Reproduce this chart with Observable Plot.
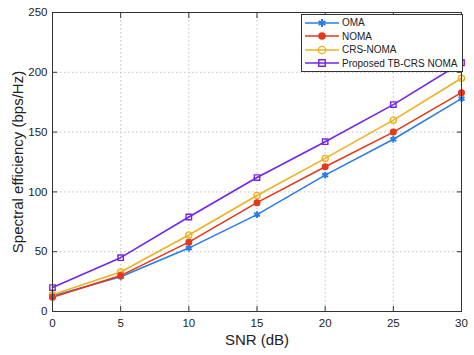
<!DOCTYPE html>
<html>
<head>
<meta charset="utf-8">
<script src="https://cdn.jsdelivr.net/npm/d3@7"></script>
<script src="https://cdn.jsdelivr.net/npm/@observablehq/plot@0.6"></script>
<style>
  html, body { margin: 0; padding: 0; background: #fff; }
  #wrap { position: relative; width: 474px; height: 355px; font-family: "Liberation Sans", Arial, sans-serif; }
  #legend { position: absolute; left: 301px; top: 14px; width: 162px; height: 58px; background: #fff; border: 1px solid #333; box-sizing: border-box; font-size: 10px; color: #222; padding-top: 1px; }
  .item { display: flex; align-items: center; height: 13.5px; margin-left: 2px; white-space: nowrap; }
  .item svg { margin-right: 2px; flex: none; }
</style>
</head>
<body>
<div id="wrap"><div id="chart"></div><div id="legend"></div></div>
<script>
const snr = [0, 5, 10, 15, 20, 25, 30];
const seriesNames = ["OMA", "NOMA", "CRS-NOMA", "Proposed TB-CRS NOMA"];
const oma = [13, 29, 53, 81, 114, 144, 178];
const noma = [12, 30, 58, 91, 121, 150, 183];
const crsNoma = [14, 33, 64, 97, 128, 160, 195];
const proposed = [20, 45, 79, 112, 142, 173, 208];
const xTicks = [0, 5, 10, 15, 20, 25, 30];
const yTicks = [0, 50, 100, 150, 200, 250];
const colors = ["#2a7de8", "#e5381c", "#edb120", "#7326e6"];
const symbols = ["asterisk", "circle", "circle", "square"];
const fills = ["#2a7de8", "#e5381c", "none", "none"];

const values = [oma, noma, crsNoma, proposed];
const data = [];
values.forEach((arr, i) => arr.forEach((v, j) => data.push({series: seriesNames[i], snr: snr[j], val: v, idx: i})));

const frameColor = "#333";
const chart = Plot.plot({
  width: 474, height: 355,
  marginLeft: 52, marginRight: 13, marginTop: 12, marginBottom: 44,
  style: {fontFamily: "Liberation Sans, Arial, sans-serif", fontSize: "11px", color: "#222", background: "#fff"},
  x: {domain: [0, 30], ticks: xTicks},
  y: {domain: [0, 250], ticks: yTicks},
  marks: [
    Plot.gridX(xTicks, {stroke: "#bbb", strokeOpacity: 0.9, strokeDasharray: "1.5,2.5"}),
    Plot.gridY(yTicks, {stroke: "#bbb", strokeOpacity: 0.9, strokeDasharray: "1.5,2.5"}),
    Plot.line(data, {x: "snr", y: "val", z: "series", stroke: d => colors[d.idx], strokeWidth: 1.6}),
    Plot.dot(data, {x: "snr", y: "val", symbol: d => symbols[d.idx], stroke: d => colors[d.idx], fill: d => fills[d.idx], r: d => d.idx === 1 ? 3 : d.idx === 0 ? 4 : 3.6, strokeWidth: d => d.idx === 0 ? 2 : 1.4}),
    Plot.frame({stroke: frameColor, strokeWidth: 1}),
    Plot.axisX(xTicks, {anchor: "bottom", tickSize: -5, tickPadding: 12, stroke: frameColor, fill: "#222", fontSize: 11.5, label: null}),
    Plot.axisX([], {anchor: "bottom", tickSize: 0, fill: "#222", fontSize: 15, label: "SNR (dB)", labelAnchor: "center", labelOffset: 33, labelArrow: "none"}),
    Plot.axisX(xTicks, {anchor: "top", tickSize: -5, tickFormat: () => "", stroke: frameColor, label: null}),
    Plot.axisY(yTicks, {anchor: "left", tickSize: -5, tickPadding: 10, stroke: frameColor, fill: "#222", fontSize: 11.5, label: null}),
    Plot.axisY([], {anchor: "left", tickSize: 0, fill: "#222", fontSize: 15, label: "Spectral efficiency (bps/Hz)", labelAnchor: "center", labelOffset: 40, labelArrow: "none"}),
    Plot.axisY(yTicks, {anchor: "right", tickSize: -5, tickFormat: () => "", stroke: frameColor, label: null})
  ]
});
document.getElementById("chart").appendChild(chart);

const legend = document.getElementById("legend");
seriesNames.forEach((name, i) => {
  const item = document.createElement("div");
  item.className = "item";
  const sym = d3.symbol(i === 0 ? d3.symbolAsterisk : i === 3 ? d3.symbolSquare : d3.symbolCircle, i === 1 ? 30 : 42)();
  item.innerHTML = `<svg width="36" height="12"><line x1="1" x2="35" y1="6" y2="6" stroke="${colors[i]}" stroke-width="1.6"/><path transform="translate(18,6)" d="${sym}" stroke="${colors[i]}" fill="${fills[i]}" stroke-width="${i===0?2:1.4}"/></svg><span>${name}</span>`;
  legend.appendChild(item);
});
</script>
</body>
</html>
